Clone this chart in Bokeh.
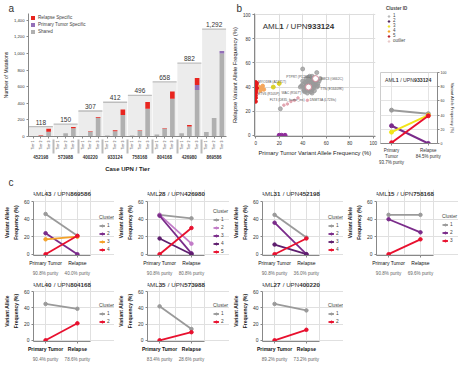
import numpy as np
from bokeh.plotting import figure
from bokeh.models import (FactorRange, NumeralTickFormatter, Legend, LegendItem, Label, Title,
                          FixedTicker, Range1d, ColumnDataSource, LinearAxis)
from bokeh.layouts import row, column
from bokeh.embed import file_html
from bokeh.resources import INLINE
from bokeh.core.properties import value

FONT = "Liberation Sans"

# ---------------- data: panel a ----------------
cases = ["452198", "573988", "400220", "933124", "758168", "804168", "426980", "869586"]
tiers = ["Tier 1", "Tier 2", "Tier 3"]
totals = [118, 150, 307, 412, 496, 658, 882, 1292]
shared = [[5, 10, 55], [3, 40, 100], [5, 58, 225], [12, 62, 258],
          [12, 65, 333], [25, 92, 455], [40, 120, 560], [55, 222, 1000]]
primary_spec = [[0, 0, 3], [0, 0, 0], [0, 0, 0], [0, 0, 0],
                [0, 0, 0], [0, 0, 0], [0, 0, 60], [0, 0, 30]]
relapse_spec = [[0, 6, 35], [0, 0, 14], [0, 4, 10], [0, 12, 68],
                [0, 8, 82], [0, 8, 85], [0, 18, 85], [0, 0, 0]]

# ---------------- data: panel b scatter ----------------
c1_x = [38, 40, 41, 42, 43, 44, 44, 45, 45, 46, 46, 47, 47, 48, 48, 49, 49, 50, 50, 51, 52, 53, 54,
        42, 43, 44, 45, 46, 47, 48, 49, 50, 51, 52, 40, 41, 43, 46, 48, 50, 53, 55, 44, 46, 48,
        39, 42, 45, 47, 49, 40, 52, 21]
c1_y = [40, 42, 38, 44, 41, 39, 45, 43, 37, 41, 46, 40, 44, 38, 47, 42, 45, 41, 48, 44, 46, 43, 45,
        36, 47, 35, 48, 38, 36, 40, 39, 37, 42, 40, 45, 37, 43, 49, 35, 46, 41, 47, 42, 44, 49,
        41, 40, 46, 47, 43, 55, 52, 22]
c2_x = [20, 22, 25]
c2_y = [0, 0, 0]
c3_x = [15, 20]
c3_y = [40, 43]
c4_x = [3, 5, 7, 4, 6]
c4_y = [40, 39, 38, 37, 41]
c5_x = [0, 0, 0, 0, 0, 0, 0, 0, 0, 0, 0, 0, 1, 1]
c5_y = [44, 42, 41, 40, 39, 38, 37, 36, 35, 33, 31, 28, 43, 39]
out_x = [24, 27, 30, 33, 36, 44]
out_y = [25, 26, 28, 29, 31, 29]
hl_x = [45, 51]
hl_y = [40, 47]
gene_text = ["MYO18B (A2171T)", "ETV6 (R105P)", "WAC (R567*)", "FLT3 (D835_frame_ins)",
             "PTPRT (P1235L)", "SMC3 (G662C)", "TTN (E16409K)", "DNMT3A (L723fs)"]
gene_x = [2, 2, 22, 12, 26, 55, 55, 46]
gene_y = [44, 34.5, 35, 29, 48.5, 47, 38.5, 29]

# ---------------- data: panel b small ----------------
b_primary = [47, 25, 16, 1]
b_relapse = [42, 0, 40, 39]

# ---------------- data: panel c ----------------
c_aml = ["43", "28", "31", "15", "40", "35", "27"]
c_upn = ["869586", "426980", "452198", "758168", "804168", "573988", "400220"]
c_pt_purity = ["90.8%", "90.8%", "90.8%", "90.8%", "90.4%", "83.4%", "89.2%"]
c_rel_purity = ["40.0%", "80.8%", "36.0%", "69.6%", "78.6%", "28.6%", "73.2%"]
c_primary = [[46, 24, 17, 0], [45, 45, 44, 18, 0], [45, 36, 11, 0], [45, 40, 0], [45, 0], [42, 0], [45, 0]]
c_relapse = [[21, 0, 20, 21], [41, 12, 1, 0, 30], [19, 0, 0, 18], [45, 25, 17], [39, 21], [14, 10], [37, 13]]

GRAY = "#9a9a9a"
PURPLE = "#7a2b8a"
DPURPLE = "#5e1e6e"
ORCHID = "#c27bc8"
ORANGE = "#f4a128"
RED = "#e8102e"
c_colors = [[GRAY, PURPLE, ORANGE, RED], [GRAY, ORCHID, PURPLE, DPURPLE, RED],
            [GRAY, PURPLE, DPURPLE, RED], [GRAY, PURPLE, RED], [GRAY, RED], [GRAY, RED], [GRAY, RED]]

# ---------------- text width helper ----------------
HW = {' ': 278, '/': 278, '%': 889, '(': 333, ')': 333, '.': 278, ',': 278, '-': 333}
for d in "0123456789":
    HW[d] = 556
HW.update(dict(A=667, B=667, C=722, D=722, E=667, F=611, G=778, H=722, I=278, J=500, K=667, L=556,
               M=833, N=722, O=778, P=667, Q=778, R=722, S=667, T=611, U=722, V=667, W=944, X=667,
               Y=667, Z=611))


def text_w(s, size, bold):
    w = sum(HW.get(ch, 556) for ch in s) / 1000.0 * size
    return w * 1.07 if bold else w


def mixed(p, x, y, parts, size, anchor="center", color="#222222"):
    widths = [text_w(t, size, b) for t, b in parts]
    total = sum(widths)
    cum = -total / 2 if anchor == "center" else 0
    for (t, b), w in zip(parts, widths):
        lead = len(t) - len(t.lstrip(" "))
        pos = cum + text_w(" " * lead, size, b)
        p.add_layout(Label(x=x, y=y, x_offset=pos, text=t.strip(" "), text_align="left",
                           text_baseline="middle", text_font=FONT, text_font_size=f"{size}px",
                           text_color=color, text_font_style="bold" if b else "normal"))
        cum += w


def style_axes(p, tick_size="4.5px", label_size="5.5px"):
    for ax in p.axis:
        ax.major_label_text_font = FONT
        ax.major_label_text_font_size = tick_size
        ax.major_label_text_color = "#333333"
        ax.axis_label_text_font = FONT
        ax.axis_label_text_font_size = label_size
        ax.axis_label_text_font_style = "normal"
        ax.axis_label_text_color = "#222222"
        ax.axis_line_color = "#888888"
        ax.major_tick_line_color = "#888888"
        ax.minor_tick_line_color = None
        ax.major_tick_out = 2
        ax.major_tick_in = 0
        ax.axis_label_standoff = 2
        ax.major_label_standoff = 2


def panel_title(p, letter, offset):
    p.title.text = letter
    p.title.align = "left"
    p.title.offset = offset
    p.title.text_font = FONT
    p.title.text_font_size = "10px"
    p.title.text_font_style = "normal"
    p.title.text_color = "#333333"
    p.title.standoff = 0


TOP_H = 187
ROW1_H = 91
ROW2_H = 86
W_A, W_B, W_R = 228, 150, 80

# ================= panel a =================
factors = [(c, t) for c in cases for t in tiers]
pa = figure(width=W_A, height=TOP_H,
            x_range=FactorRange(*factors, group_padding=0.2, factor_padding=0.0,
                                range_padding=0.1, range_padding_units="absolute"),
            y_range=Range1d(0, 1480), output_backend="svg", toolbar_location=None,
            min_border_left=6, min_border_right=2, min_border_top=2, min_border_bottom=0)
panel_title(pa, "a", -20)
pa.outline_line_color = None
pa.xgrid.grid_line_color = None
pa.ygrid.grid_line_color = None

pa.vbar(x=cases, top=totals, width=3.1, fill_color="#ececec", line_color=None)
pa.rect(x=cases, y=totals, width=3.1, height=1.3, height_units="screen", fill_color="#bdbdbd", line_color=None)
pa.text(x=cases, y=totals, text=[f"{t:,}" for t in totals], y_offset=-2, text_align="center",
        text_baseline="bottom", text_font=value(FONT), text_font_size="6.5px", text_color="#333333")

src = ColumnDataSource(dict(x=factors,
                            shared=[v for r in shared for v in r],
                            primary=[v for r in primary_spec for v in r],
                            relapse=[v for r in relapse_spec for v in r]))
rs = pa.vbar_stack(["shared", "primary", "relapse"], x="x", width=0.6, source=src,
                   color=["#b0b0b0", "#9370b8", "#e8251f"], line_color=None)
leg_a = Legend(items=[LegendItem(label="Relapse Specific", renderers=[rs[2]]),
                      LegendItem(label="Primary Tumor Specific", renderers=[rs[1]]),
                      LegendItem(label="Shared", renderers=[rs[0]])],
               location="top_left", glyph_width=5, glyph_height=5, label_height=5,
               label_text_font=FONT, label_text_font_size="4.6px", spacing=2, padding=3, margin=2,
               border_line_color=None, background_fill_alpha=0, label_standoff=3)
pa.add_layout(leg_a)
style_axes(pa, tick_size="4.2px")
pa.yaxis.formatter = NumeralTickFormatter(format="0,0")
pa.yaxis.ticker = FixedTicker(ticks=[0, 200, 400, 600, 800, 1000, 1200, 1400])
pa.yaxis.axis_label = "Number of Mutations"
pa.yaxis.axis_label_text_font_size = "5px"
pa.xaxis.axis_label = "Case UPN / Tier"
pa.xaxis.axis_label_text_font_style = "bold"
pa.xaxis.axis_label_text_font_size = "6px"
pa.xaxis.axis_label_standoff = 4
pa.xaxis.major_label_orientation = np.pi / 2
pa.xaxis.major_label_text_font_size = "3.6px"
pa.xaxis.group_text_font = FONT
pa.xaxis.group_text_font_size = "4.5px"
pa.xaxis.group_text_color = "#333333"
pa.xaxis.separator_line_color = "#bbbbbb"
pa.add_layout(Title(text="c", align="left", offset=-20, text_font=FONT, text_font_size="10px",
                    text_font_style="normal", text_color="#333333", standoff=0), "below")

# ================= panel b scatter =================
pb = figure(width=W_B, height=TOP_H, x_range=Range1d(-1, 102), y_range=Range1d(-1, 101),
            output_backend="svg", toolbar_location=None,
            min_border_left=6, min_border_right=3, min_border_top=4, min_border_bottom=30)
panel_title(pb, "b", -18)
pb.outline_line_color = None
pb.xgrid.grid_line_color = "#dddddd"
pb.ygrid.grid_line_color = "#dddddd"
pb.xaxis.ticker = FixedTicker(ticks=[0, 20, 40, 60, 80, 100])
pb.yaxis.ticker = FixedTicker(ticks=[0, 20, 40, 60, 80, 100])
style_axes(pb, tick_size="4.5px", label_size="5.8px")
pb.xaxis.axis_label = "Primary Tumor Variant Allele Frequency (%)"
pb.yaxis.axis_label = "Relapse Variant Allele Frequency (%)"
pb.scatter(c1_x, c1_y, size=4, color="#9a9a9a", alpha=0.75)
pb.scatter(out_x, out_y, size=2.5, color="#e3a5b0")
pb.scatter(c4_x, c4_y, size=3.5, color="#f5a65b")
pb.scatter(c3_x, c3_y, size=4, color="#d9d02a")
pb.scatter(c5_x, c5_y, size=3.5, color="#e41a1c")
pb.scatter(c2_x, c2_y, size=4, color="#8e2c9a")
pb.scatter(hl_x, hl_y, size=6, fill_color="white", line_color="#d08a9a", line_width=1)
pb.text(x=gene_x, y=gene_y, text=gene_text, text_font=value(FONT), text_font_size="3.3px",
        text_color="#555555", text_baseline="middle")
mixed(pb, 6, 90, [("AML", False), ("1", True), (" / UPN", False), ("933124", True)], 8,
      anchor="left", color="#333333")

# ================= panel b legend =================
pleg = figure(width=W_R, height=60, x_range=Range1d(0, 1), y_range=Range1d(0, 1),
              x_axis_location=None, y_axis_location=None, output_backend="svg",
              toolbar_location=None, min_border=0)
pleg.outline_line_color = None
pleg.xgrid.grid_line_color = None
pleg.ygrid.grid_line_color = None
leg_cols = ["#b5b5b5", "#4a1a55", "#f0e020", "#f7a11a", "#b8141c", "#e8c6c6"]
leg_labs = ["1", "2", "3", "4", "5", "outlier"]
items = []
for col, lab in zip(leg_cols, leg_labs):
    r = pleg.scatter([5], [5], size=3, color=col)
    items.append(LegendItem(label=lab, renderers=[r]))
pleg.add_layout(Legend(items=items, title="Cluster ID", location="top_left", glyph_width=5,
                       glyph_height=4, label_height=4, label_text_font=FONT,
                       label_text_font_size="4.5px", title_text_font=FONT,
                       title_text_font_size="4.5px", title_text_font_style="bold",
                       spacing=0, padding=2, margin=6, border_line_color=None,
                       label_standoff=2, title_standoff=2))

# ================= panel b small =================
pbs = figure(width=W_R, height=TOP_H - 60, x_range=Range1d(-0.3, 1.25), y_range=Range1d(0, 100),
             y_axis_location="right", output_backend="svg", toolbar_location=None,
             min_border_left=2, min_border_right=1, min_border_top=12, min_border_bottom=44)
pbs.outline_line_color = "#cccccc"
pbs.xgrid.grid_line_color = "#e4e4e4"
pbs.ygrid.grid_line_color = "#e4e4e4"
pbs.xaxis.ticker = FixedTicker(ticks=[0, 1])
pbs.yaxis.ticker = FixedTicker(ticks=[0, 20, 40, 60, 80, 100])
pbs.xaxis.major_label_overrides = {0: "Primary\nTumor\n93.7% purity", 1: "Relapse\n84.5% purity"}
style_axes(pbs, tick_size="4.5px")
pbs.yaxis.major_label_text_font_size = "3.5px"
pbs.yaxis.major_label_standoff = 1
pbs.yaxis.axis_label = "Variant Allele Frequency (%)"
pbs.yaxis.axis_label_text_font_size = "4px"
pbs.yaxis.axis_label_standoff = 1
for pv, rv, col in zip(b_primary, b_relapse, [GRAY, PURPLE, "#f2e418", RED]):
    pbs.line([0, 1], [pv, rv], line_width=2, color=col)
    pbs.scatter([0, 1], [pv, rv], size=4, color=col)
mixed(pbs, 0.47, 90, [("AML", False), ("1", True), (" / UPN", False), ("933124", True)], 5.2,
      color="#333333")


# ================= panel c =================
def make_c(i, w, h, bold_ticks):
    fw = w - 22
    box_px = 65
    x0, x1 = -0.38, 1.42
    xend = x0 + (x1 - x0) * fw / box_px
    y0, yend = -1.5, 74
    p = figure(width=w, height=h, x_range=Range1d(x0, xend), y_range=Range1d(y0, yend),
               output_backend="svg", toolbar_location=None,
               min_border_left=2, min_border_right=0, min_border_top=2, min_border_bottom=2)
    p.outline_line_color = None
    p.xgrid.grid_line_color = "#e0e0e0"
    p.ygrid.grid_line_color = "#e0e0e0"
    p.xgrid.ticker = FixedTicker(ticks=[0, 0.5, 1, x1])
    p.xgrid.bounds = (y0, 60)
    p.ygrid.ticker = FixedTicker(ticks=[0, 20, 40, 60])
    p.ygrid.bounds = (x0, x1)
    p.xaxis.ticker = FixedTicker(ticks=[0, 1])
    p.xaxis.bounds = (x0, x1)
    p.yaxis.ticker = FixedTicker(ticks=[0, 20, 40, 60])
    p.yaxis.bounds = (y0, 60)
    p.xaxis.major_label_overrides = {0: "Primary Tumor", 1: "Relapse"}
    p.yaxis.axis_label = "Frequency (%)"
    outer_y = LinearAxis(axis_label="Variant Allele", ticker=FixedTicker(ticks=[]))
    p.add_layout(outer_y, "left")
    outer_x = LinearAxis(ticker=FixedTicker(ticks=[0, 1]),
                         major_label_overrides={0: f"{c_pt_purity[i]} purity",
                                                1: f"{c_rel_purity[i]} purity"})
    p.add_layout(outer_x, "below")
    style_axes(p, tick_size="5px")
    outer_y.axis_line_color = None
    outer_y.major_tick_line_color = None
    outer_y.axis_label_standoff = 0
    outer_x.axis_line_color = None
    outer_x.major_tick_line_color = None
    outer_x.major_label_standoff = 0
    outer_x.major_label_text_font_size = "4.6px"
    outer_x.major_label_text_color = "#666666"
    p.xaxis[0].major_label_text_color = "#111111"
    if bold_ticks:
        p.xaxis[0].major_label_text_font_style = "bold"
    for ax in p.yaxis:
        ax.axis_label_text_font_style = "bold"
        ax.axis_label_text_font_size = "5px"
    items = []
    for k, (pv, rv, col) in enumerate(zip(c_primary[i], c_relapse[i], c_colors[i])):
        rl = p.line([0, 1], [pv, rv], line_width=1.8, color=col)
        rsc = p.scatter([0, 1], [pv, rv], size=3.5, color=col)
        items.append(LegendItem(label=str(k + 1), renderers=[rl, rsc]))
    n = len(items)
    fh = h - 21
    box_top = (60 - y0) / (yend - y0) * fh
    lx = box_px + 1
    ly = max(1, box_top - 3 - (15 + 9 * n))
    leg = Legend(items=items, title="Cluster", location=(lx, ly), glyph_width=6, glyph_height=5,
                 label_height=5, label_text_font=FONT, label_text_font_size="4.8px",
                 title_text_font=FONT, title_text_font_size="4.8px", title_text_font_style="normal",
                 spacing=3, padding=1, margin=0, border_line_color=None, label_standoff=2,
                 title_standoff=3, background_fill_alpha=0)
    p.add_layout(leg)
    mixed(p, 0.52, 69, [("AML", False), (c_aml[i], True), (" / UPN", False), (c_upn[i], True)], 6.2,
          color="#333333")
    return p


widths = [114, 115, 114, 115, 114, 115, 114]
c_figs = [make_c(i, widths[i], ROW1_H if i < 4 else ROW2_H, bold_ticks=(i >= 4)) for i in range(7)]

layout = column(row(pa, pb, column(pleg, pbs)), row(*c_figs[:4]), row(*c_figs[4:]))
open("out.html", "w").write(file_html(layout, INLINE))
